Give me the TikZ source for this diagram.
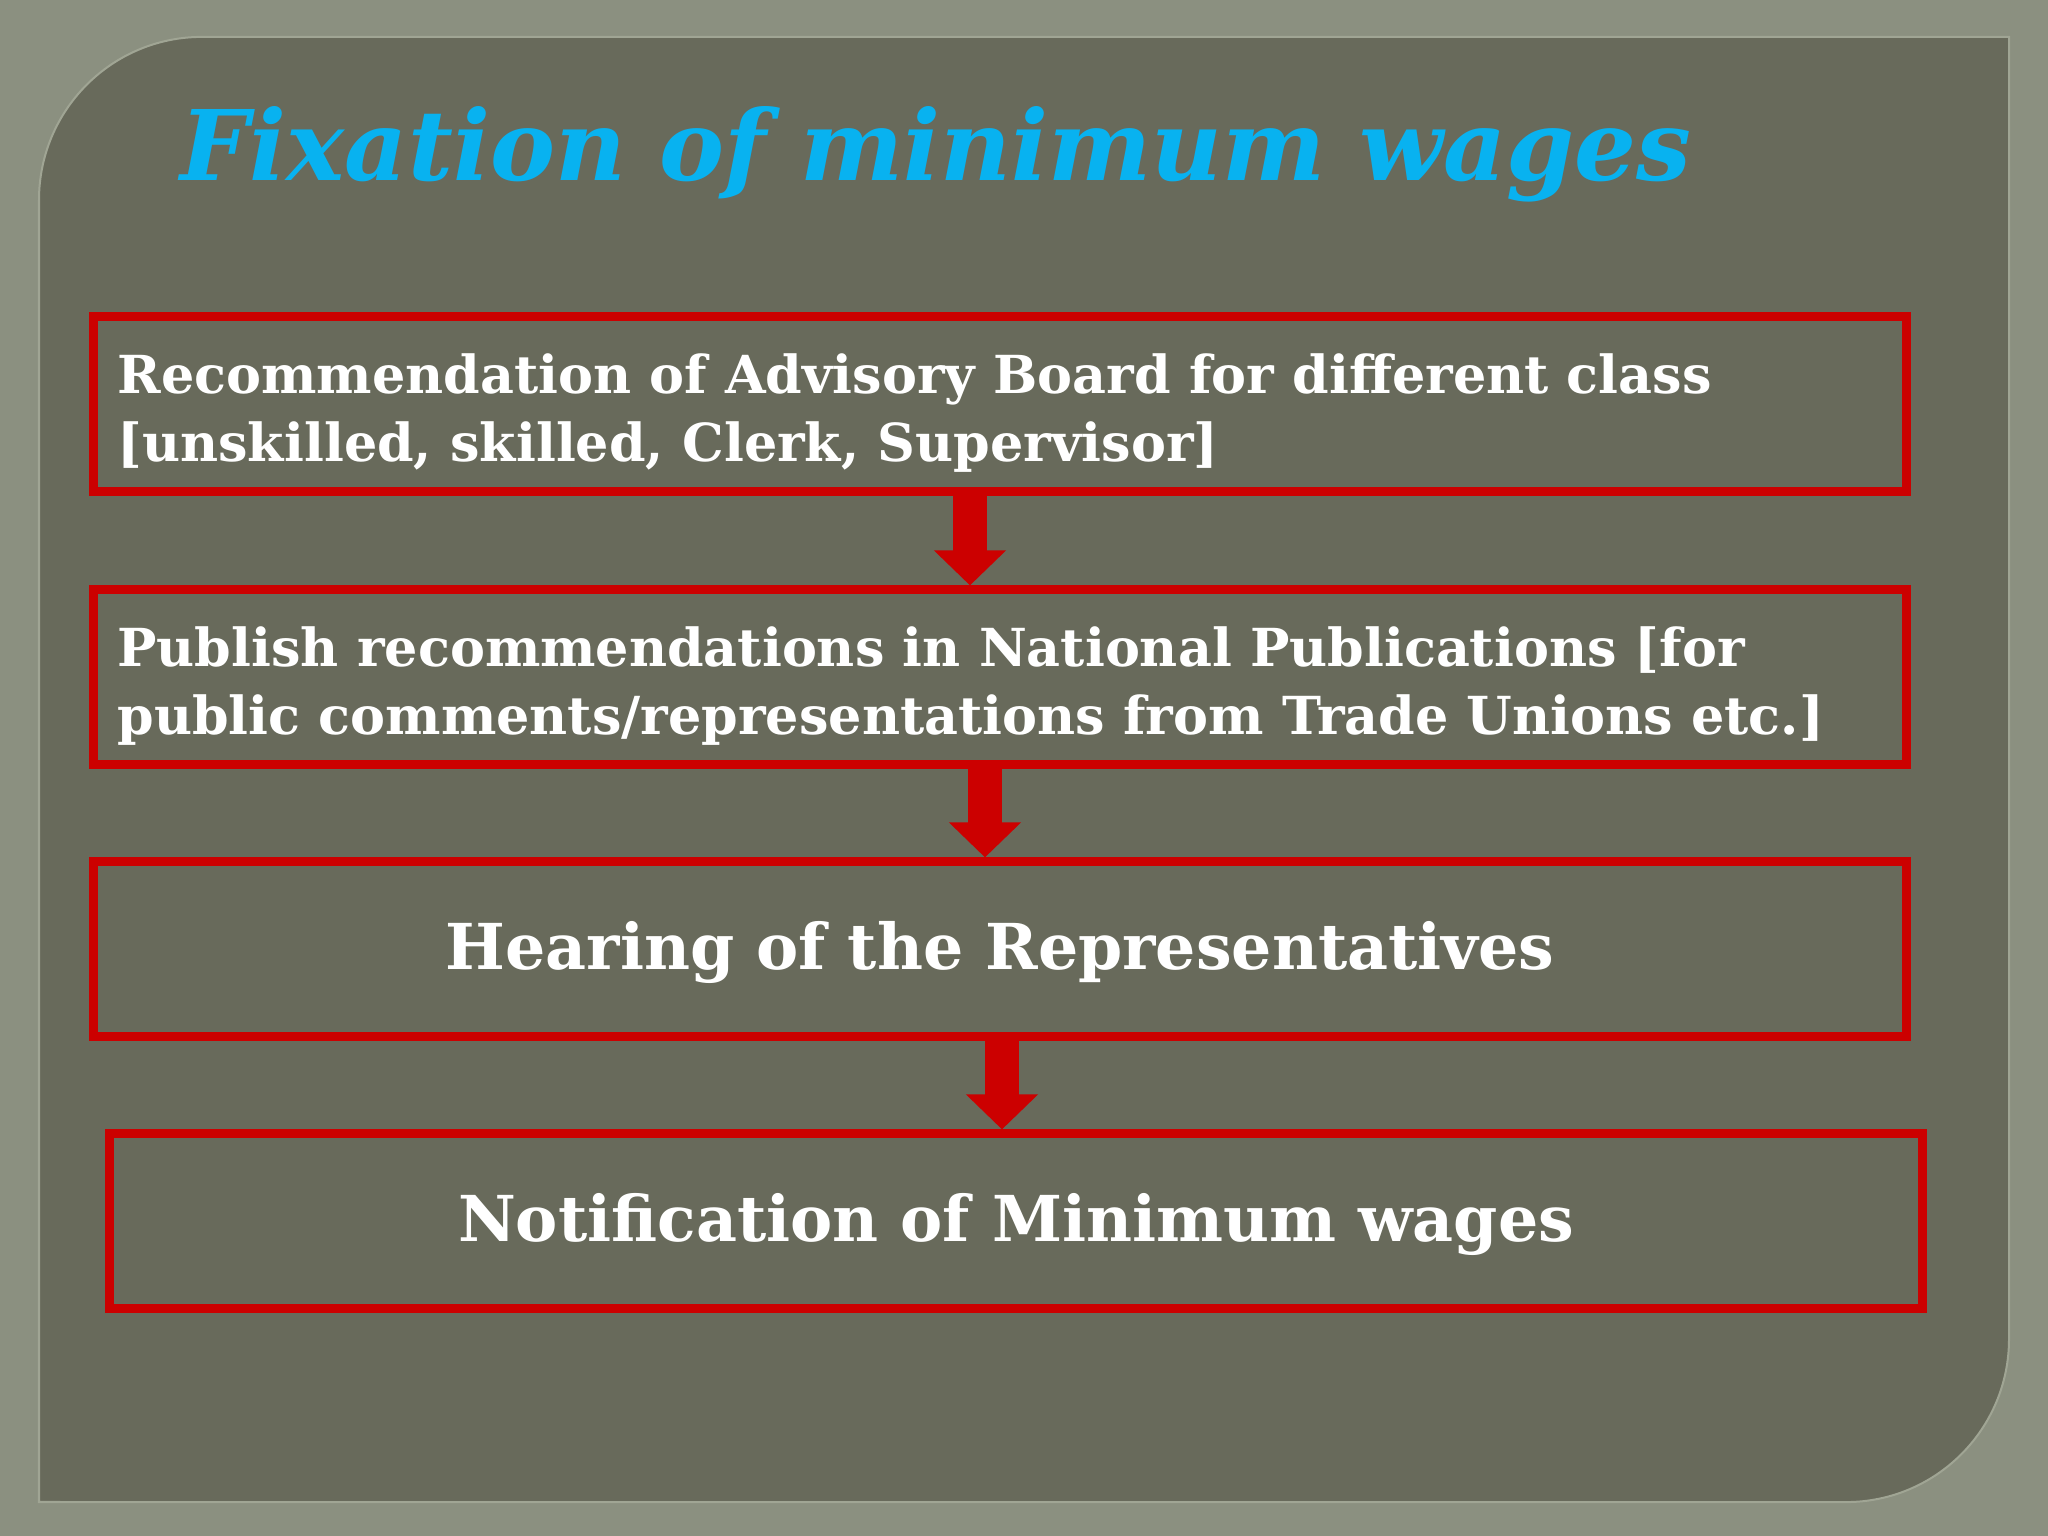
\documentclass[tikz,border=0pt]{standalone}
\usepackage{fontspec}
\setmainfont{DejaVu Serif}
\usepackage{xcolor}
\usepackage{tikz}
\usetikzlibrary{arrows.meta,positioning,calc}
\definecolor{outerbg}{RGB}{139,144,128}
\definecolor{panelbg}{RGB}{104,106,91}
\definecolor{panelrim}{RGB}{160,165,148}
\definecolor{boxred}{RGB}{204,0,0}
\definecolor{titleblue}{RGB}{8,178,240}
\begin{document}
\begin{tikzpicture}[x = 0.01cm, y = 0.01cm,
    stepbox/.style = {draw = boxred, line width = 0.09cm, inner sep = 0pt,
      minimum width = 18.12cm, minimum height = 1.74cm, text = white,
      font = \bfseries\fontsize{14.9}{19.4}\selectfont},
    bigbox/.style = {stepbox, text height = 11.8pt, text depth = 0pt,
      font = \bfseries\fontsize{18}{22}\selectfont},
    downarrow/.style = {draw = boxred, line width = 0.34cm,
      -{Triangle[width = 0.7cm, length = 0.35cm]}}]
  \useasboundingbox (0,0) rectangle (2048,1536);
  \fill[outerbg] (0,0) rectangle (2048,1536);
  \fill[panelbg, draw = panelrim, line width = 0.02cm]
    (39,34) -- (39,1336) arc (180:90:1.63cm) -- (2009,1499)
    -- (2009,197) arc (0:-90:1.63cm) -- cycle;
  \node[anchor = base west, text = titleblue, inner sep = 0pt,
    font = \bfseries\itshape\fontsize{27.7}{32}\selectfont] (title) at (180,1355)
    {Fixation of minimum wages};
  \node[stepbox] (rec) at (1000,1132) {\parbox{17.64cm}{\vspace*{0.18cm}\raggedright
    Recommendation of Advisory Board for different class\\\relax
    [unskilled, skilled, Clerk, Supervisor]}};
  \node[stepbox] (pub) at (1000,859) {\parbox{17.64cm}{\vspace*{0.18cm}\raggedright
    Publish recommendations in National Publications [for\\\relax
    public comments/representations from Trade Unions etc.]}};
  \node[bigbox] (hear) at (1000,587) {Hearing of the Representatives};
  \node[bigbox] (notif) at (1016,315) {Notification of Minimum wages};
  \draw[downarrow] ([xshift = -0.3cm]rec.south) -- ([xshift = -0.3cm]pub.north);
  \draw[downarrow] ([xshift = -0.15cm]pub.south) -- ([xshift = -0.15cm]hear.north);
  \draw[downarrow] ([xshift = 0.02cm]hear.south) -- ([xshift = 0.02cm]hear.south |- notif.north);
\end{tikzpicture}
\end{document}
